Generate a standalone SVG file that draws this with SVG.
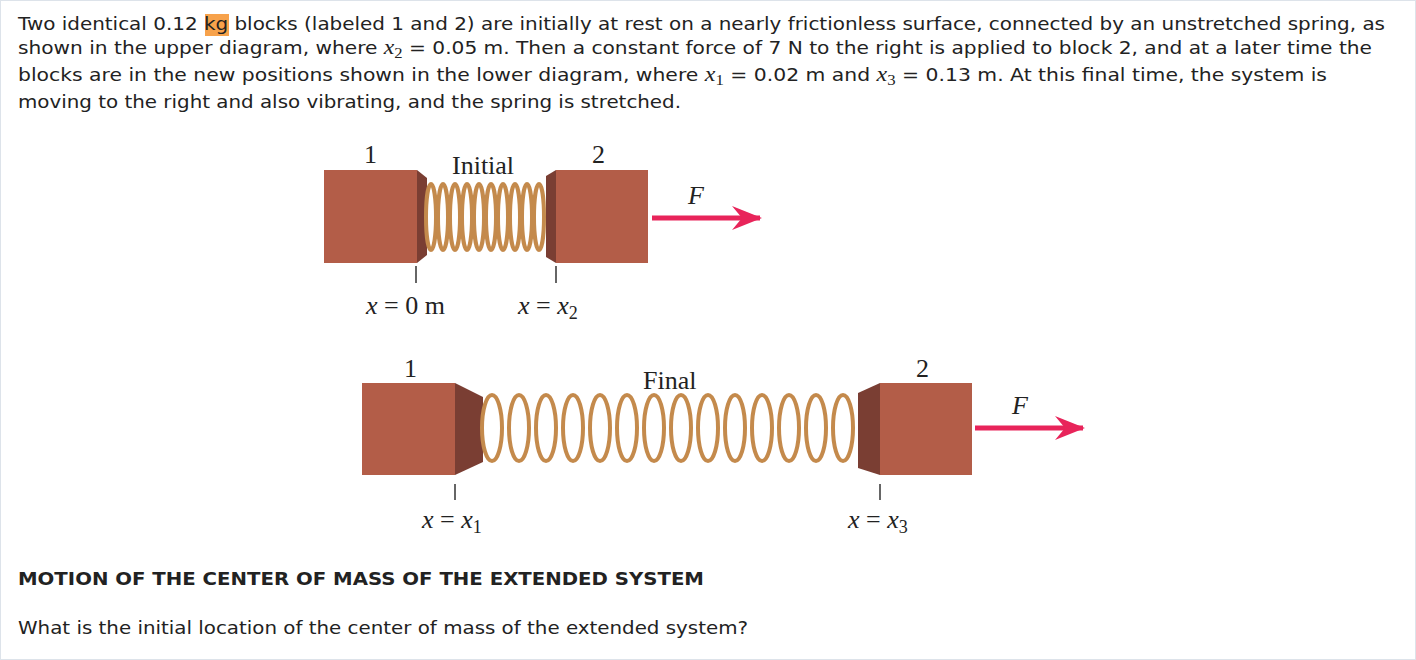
<svg xmlns="http://www.w3.org/2000/svg" width="1416" height="660" viewBox="0 0 1416 660">
<style>
.t{font-family:"DejaVu Sans",Verdana,sans-serif;font-size:17px;fill:#222}
.m{font-family:"Liberation Serif",serif;font-style:italic}
.s{font-family:"Liberation Serif",serif;font-size:26px;fill:#222}
.blk{fill:#b35d48}
.side{fill:#7a3e33}
.coil{fill:none;stroke:#c48a4c;stroke-width:4}
.tick{stroke:#333;stroke-width:1.5}
.arr{stroke:#e8245a;stroke-width:5}
</style>
<defs>
<marker id="ah2" viewBox="0 0 30 24" refX="28" refY="12" markerWidth="30" markerHeight="24" orient="auto" markerUnits="userSpaceOnUse"><path d="M0,0 L30,12 L0,24 L10,12Z" fill="#e8245a"/></marker></defs>
<rect x="0.5" y="0.5" width="1415" height="659" fill="#fff" stroke="#dde3ea"/>
<rect x="205" y="14" width="24" height="22" fill="#f7a24b"/>
<text class="t" x="18" y="30" textLength="1367" lengthAdjust="spacingAndGlyphs">Two identical 0.12 kg blocks (labeled 1 and 2) are initially at rest on a nearly frictionless surface, connected by an unstretched spring, as</text>
<text class="t" x="18" y="54" textLength="1354" lengthAdjust="spacingAndGlyphs">shown in the upper diagram, where <tspan class="m" font-size="20">x</tspan><tspan font-family="Liberation Serif" font-size="14" dy="4">2</tspan><tspan dy="-4">  = 0.05 m. Then a constant force of 7 N to the right is applied to block 2, and at a later time the</tspan></text>
<text class="t" x="18" y="81" textLength="1309" lengthAdjust="spacingAndGlyphs">blocks are in the new positions shown in the lower diagram, where <tspan class="m" font-size="20">x</tspan><tspan font-family="Liberation Serif" font-size="14" dy="4">1</tspan><tspan dy="-4">  = 0.02 m and </tspan><tspan class="m" font-size="20">x</tspan><tspan font-family="Liberation Serif" font-size="14" dy="4">3</tspan><tspan dy="-4">  = 0.13 m. At this final time, the system is</tspan></text>
<text class="t" x="18" y="108" textLength="663" lengthAdjust="spacingAndGlyphs">moving to the right and also vibrating, and the spring is stretched.</text>
<g id="initial">
<rect class="blk" x="324" y="170" width="93" height="93"/>
<polygon class="side" points="417,170 427,178 427,255 417,263"/>
<g class="coil"><ellipse cx="431" cy="217" rx="5" ry="33"/><ellipse cx="443" cy="217" rx="5" ry="33"/><ellipse cx="455" cy="217" rx="5" ry="33"/><ellipse cx="467" cy="217" rx="5" ry="33"/><ellipse cx="479" cy="217" rx="5" ry="33"/><ellipse cx="491" cy="217" rx="5" ry="33"/><ellipse cx="503" cy="217" rx="5" ry="33"/><ellipse cx="515" cy="217" rx="5" ry="33"/><ellipse cx="527" cy="217" rx="5" ry="33"/><ellipse cx="539" cy="217" rx="5" ry="33"/></g>
<polygon class="side" points="556,170 546,176 546,257 556,263"/>
<rect class="blk" x="556" y="170" width="92" height="93"/>
<text class="s" x="364" y="163">1</text><text class="s" x="452" y="174">Initial</text><text class="s" x="592" y="163">2</text>
<line class="tick" x1="416" y1="266" x2="416" y2="283"/><line class="tick" x1="556" y1="266" x2="556" y2="283"/>
<text class="s" x="366" y="314"><tspan class="m">x</tspan> = 0 m</text>
<text class="s" x="518" y="314"><tspan class="m">x</tspan> = <tspan class="m">x</tspan><tspan font-size="18" dy="5">2</tspan></text>
<line class="arr" x1="652" y1="218" x2="760" y2="218" marker-end="url(#ah2)"/>
<text class="s" x="688" y="204"><tspan class="m">F</tspan></text>
</g>
<g id="final">
<rect class="blk" x="362" y="383" width="93" height="92"/>
<polygon class="side" points="455,383 483,397 483,462 455,475"/>
<g class="coil"><ellipse cx="492" cy="428" rx="10" ry="33"/><ellipse cx="519" cy="428" rx="10" ry="33"/><ellipse cx="546" cy="428" rx="10" ry="33"/><ellipse cx="573" cy="428" rx="10" ry="33"/><ellipse cx="600" cy="428" rx="10" ry="33"/><ellipse cx="627" cy="428" rx="10" ry="33"/><ellipse cx="654" cy="428" rx="10" ry="33"/><ellipse cx="681" cy="428" rx="10" ry="33"/><ellipse cx="708" cy="428" rx="10" ry="33"/><ellipse cx="735" cy="428" rx="10" ry="33"/><ellipse cx="762" cy="428" rx="10" ry="33"/><ellipse cx="789" cy="428" rx="10" ry="33"/><ellipse cx="816" cy="428" rx="10" ry="33"/><ellipse cx="843" cy="428" rx="10" ry="33"/></g>
<polygon class="side" points="880,383 858,393 858,468 880,475"/>
<rect class="blk" x="880" y="383" width="92" height="92"/>
<text class="s" x="404" y="377">1</text><text class="s" x="643" y="389">Final</text><text class="s" x="916" y="377">2</text>
<line class="tick" x1="455" y1="484" x2="455" y2="500"/><line class="tick" x1="880" y1="484" x2="880" y2="500"/>
<text class="s" x="422" y="528"><tspan class="m">x</tspan> = <tspan class="m">x</tspan><tspan font-size="18" dy="5">1</tspan></text>
<text class="s" x="848" y="528"><tspan class="m">x</tspan> = <tspan class="m">x</tspan><tspan font-size="18" dy="5">3</tspan></text>
<line class="arr" x1="975" y1="428" x2="1083" y2="428" marker-end="url(#ah2)"/>
<text class="s" x="1012" y="414"><tspan class="m">F</tspan></text>
</g>
<text class="t" x="18" y="585" font-weight="bold" textLength="686" lengthAdjust="spacingAndGlyphs">MOTION OF THE CENTER OF MASS OF THE EXTENDED SYSTEM</text>
<text class="t" x="18" y="634" textLength="730" lengthAdjust="spacingAndGlyphs">What is the initial location of the center of mass of the extended system?</text>
</svg>
